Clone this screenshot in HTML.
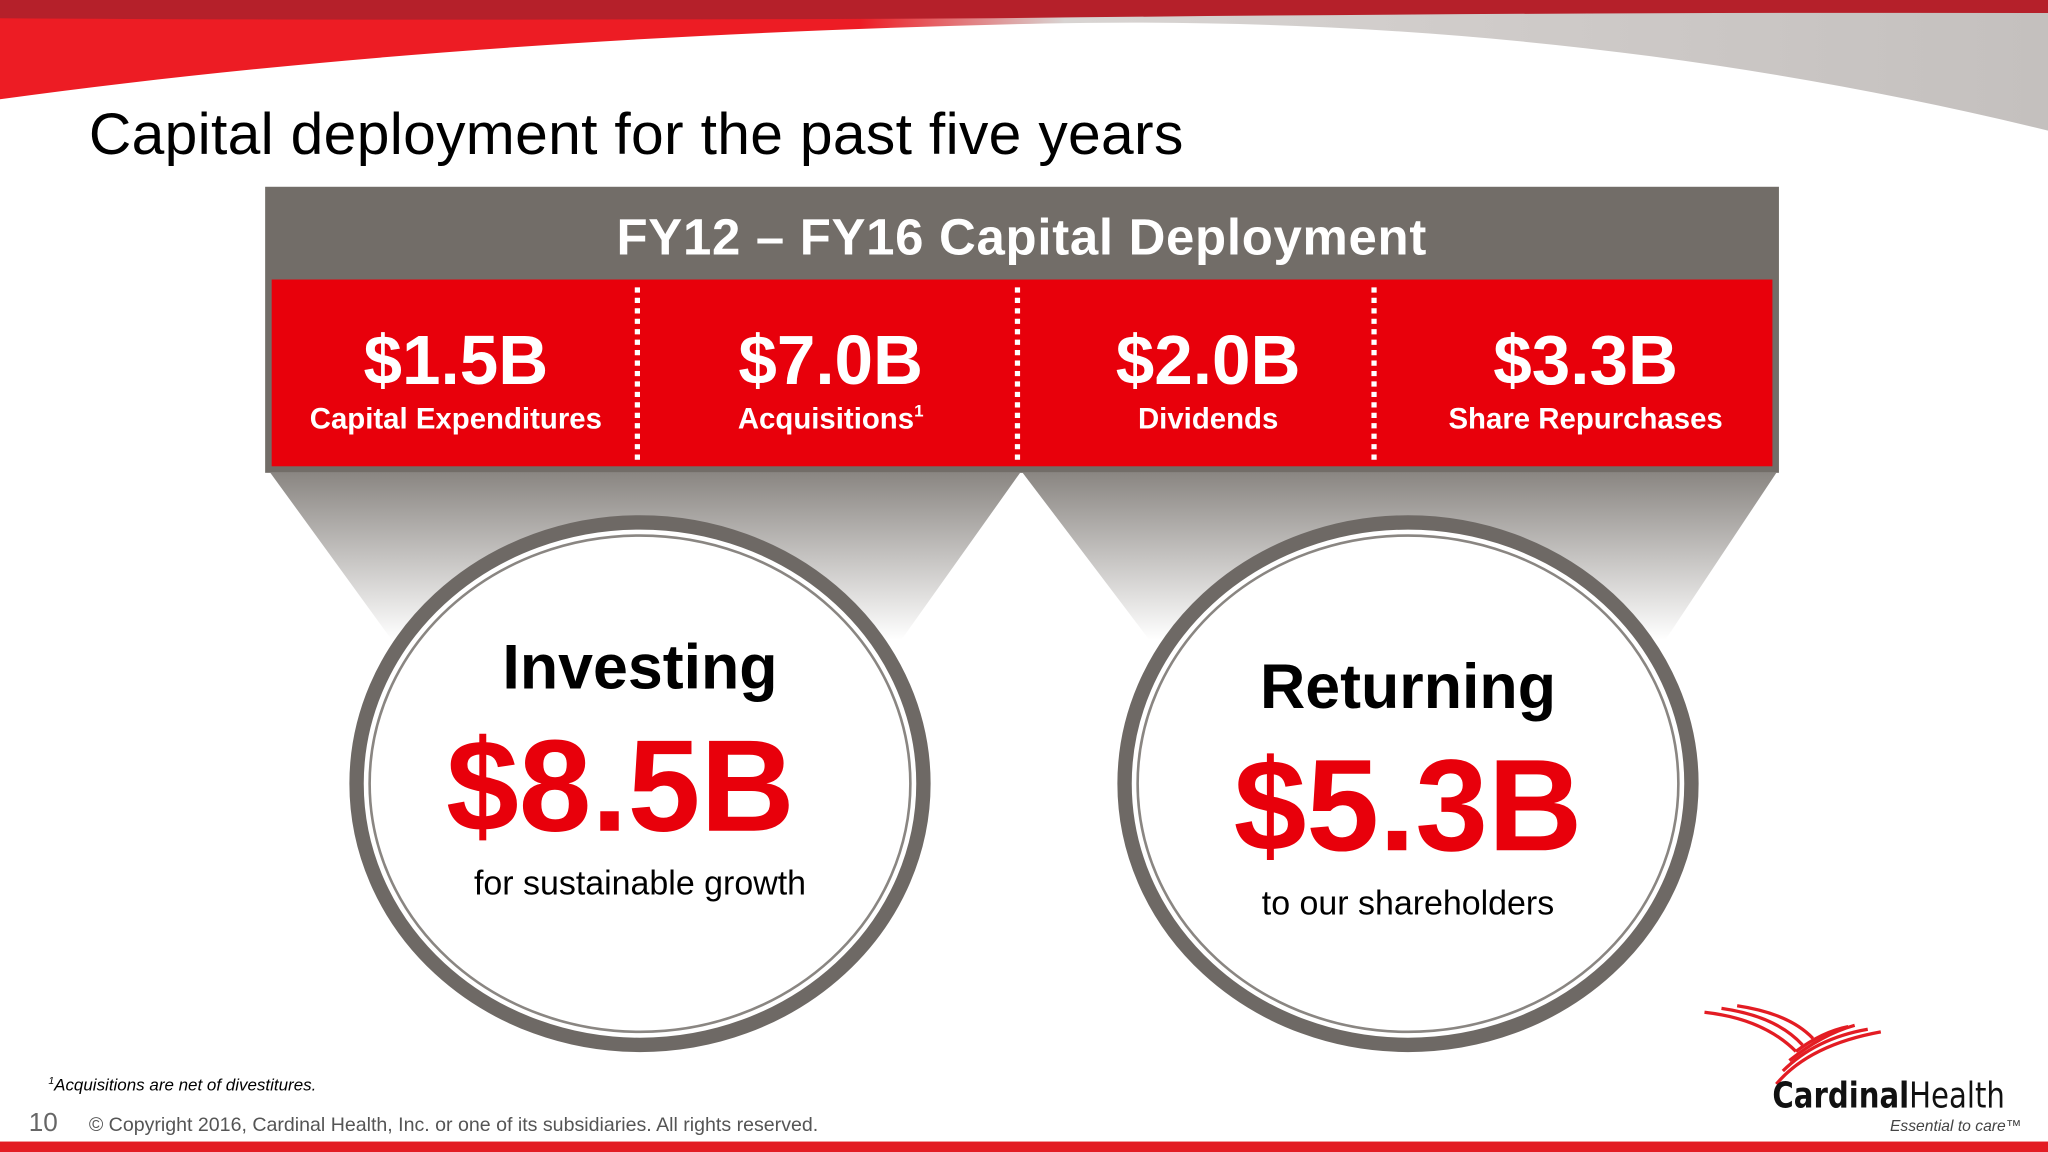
<!DOCTYPE html>
<html><head><meta charset="utf-8"><style>
html,body{margin:0;padding:0;background:#fff;overflow:hidden}
svg{display:block;font-family:"Liberation Sans",sans-serif}
</style></head><body>
<svg id="slide" width="2048" height="1152" viewBox="0 0 1568 882" xmlns="http://www.w3.org/2000/svg">
<defs>
<linearGradient id="topg" x1="0" x2="1" y1="0" y2="0">
<stop offset="0" stop-color="#ed1c24"/><stop offset="0.42" stop-color="#ed1c24"/><stop offset="0.52" stop-color="#d8d4d2"/><stop offset="1" stop-color="#c4c0be"/></linearGradient>
<linearGradient id="fun" x1="0" x2="0" y1="0" y2="1">
<stop offset="0" stop-color="#8a8682"/><stop offset="1" stop-color="#ffffff"/></linearGradient>
</defs>
<rect width="1568" height="882" fill="#fff"/>
<path d="M0,0 H1568 V100 Q1200,10 800,18 Q350,28 0,76 Z" fill="url(#topg)"/>
<path d="M0,0 H1568 V10 Q1200,9 760,14 Q300,16 0,14 Z" fill="#b5202a"/>
<text x="68" y="118" font-size="45" fill="#000" textLength="838">Capital deployment for the past five years</text>

<path d="M207,362 L781,362 L690,490 L300,490 Z" fill="url(#fun)"/>
<path d="M783,362 L1360,362 L1275,490 L880,490 Z" fill="url(#fun)"/>

<rect x="203" y="143" width="1159" height="219" fill="#726d68"/>
<text x="782" y="195" font-size="39" font-weight="bold" fill="#fff" text-anchor="middle" textLength="620">FY12 – FY16 Capital Deployment</text>
<rect x="208" y="214" width="1149" height="143" fill="#e8000b"/>
<g id="cells"></g>

<g>
<ellipse cx="490" cy="600" rx="217" ry="200" fill="#fff" stroke="#6e6965" stroke-width="11"/>
<ellipse cx="490" cy="600" rx="207" ry="190" fill="none" stroke="#8a8682" stroke-width="2"/>
<text x="490" y="527" font-size="48" font-weight="bold" text-anchor="middle">Investing</text>
<text x="475" y="636" font-size="100" font-weight="bold" fill="#e8000b" text-anchor="middle">$8.5B</text>
<text x="490" y="685" font-size="26" text-anchor="middle">for sustainable growth</text>
</g>
<g>
<ellipse cx="1078" cy="600" rx="217" ry="200" fill="#fff" stroke="#6e6965" stroke-width="11"/>
<ellipse cx="1078" cy="600" rx="207" ry="190" fill="none" stroke="#8a8682" stroke-width="2"/>
<text x="1078" y="542" font-size="48" font-weight="bold" text-anchor="middle">Returning</text>
<text x="1078" y="651" font-size="100" font-weight="bold" fill="#e8000b" text-anchor="middle">$5.3B</text>
<text x="1078" y="700" font-size="26" text-anchor="middle">to our shareholders</text>
</g>

<text x="37" y="835" font-size="13" font-style="italic" fill="#000"><tspan font-size="8" dy="-5">1</tspan><tspan dy="5">Acquisitions are net of divestitures.</tspan></text>
<text x="22" y="866" font-size="20" fill="#666">10</text>
<text x="68" y="866" font-size="15" fill="#555">© Copyright 2016, Cardinal Health, Inc. or one of its subsidiaries. All rights reserved.</text>

<g>
<g fill="none" stroke="#e31c23" stroke-width="2.5">
<path d="M1305,775 Q1350,780 1375,805"/><path d="M1318,772 Q1360,778 1380,800"/><path d="M1330,770 Q1370,776 1388,795"/>
<path d="M1365,820 Q1390,795 1430,788"/><path d="M1370,812 Q1395,792 1420,785"/><path d="M1375,805 Q1395,790 1415,786"/><path d="M1360,830 Q1385,800 1440,790"/>
</g>
<text x="1357" y="848" font-size="27" fill="#111" textLength="178" lengthAdjust="spacingAndGlyphs" font-family="DejaVu Sans Condensed, Liberation Sans, sans-serif"><tspan font-weight="bold">Cardinal</tspan>Health</text>
<text x="1447" y="866" font-size="12" font-style="italic" fill="#444">Essential to care™</text>
</g>
<rect x="0" y="874" width="1568" height="8" fill="#e31c23"/>
</svg>
<script>
const values = ["$1.5B", "$7.0B", "$2.0B", "$3.3B"];
const labels = ["Capital Expenditures", "Acquisitions", "Dividends", "Share Repurchases"];
const supers = ["", "1", "", ""];
const NS = "http://www.w3.org/2000/svg";
const g = document.getElementById("cells");
const centers = [349, 636, 925, 1214];
const dividers = [488, 779, 1052];
dividers.forEach(function(x){
  const l = document.createElementNS(NS, "line");
  
  
  l.setAttribute("x1", x); l.setAttribute("x2", x);
  l.setAttribute("y1", 220); l.setAttribute("y2", 354);
  l.setAttribute("stroke", "#fff"); l.setAttribute("stroke-width", 4);
  l.setAttribute("stroke-dasharray", "4 4");
  g.appendChild(l);
});
values.forEach(function(v, i){
  const t = document.createElementNS(NS, "text");
  
  
  t.setAttribute("x", centers[i]); t.setAttribute("y", 294);
  t.setAttribute("font-size", 53); t.setAttribute("font-weight", "bold");
  t.setAttribute("fill", "#fff"); t.setAttribute("text-anchor", "middle");
  t.textContent = v;
  g.appendChild(t);
  const s = document.createElementNS(NS, "text");
  
  
  s.setAttribute("x", centers[i]); s.setAttribute("y", 328);
  s.setAttribute("font-size", 22.5); s.setAttribute("font-weight", "bold");
  s.setAttribute("fill", "#fff"); s.setAttribute("text-anchor", "middle");
  s.textContent = labels[i];
  if (supers[i]) {
    const sp = document.createElementNS(NS, "tspan");
    sp.setAttribute("font-size", 13); sp.setAttribute("dy", -9);
    sp.textContent = supers[i];
    s.appendChild(sp);
  }
  g.appendChild(s);
});
</script>
</body></html>
